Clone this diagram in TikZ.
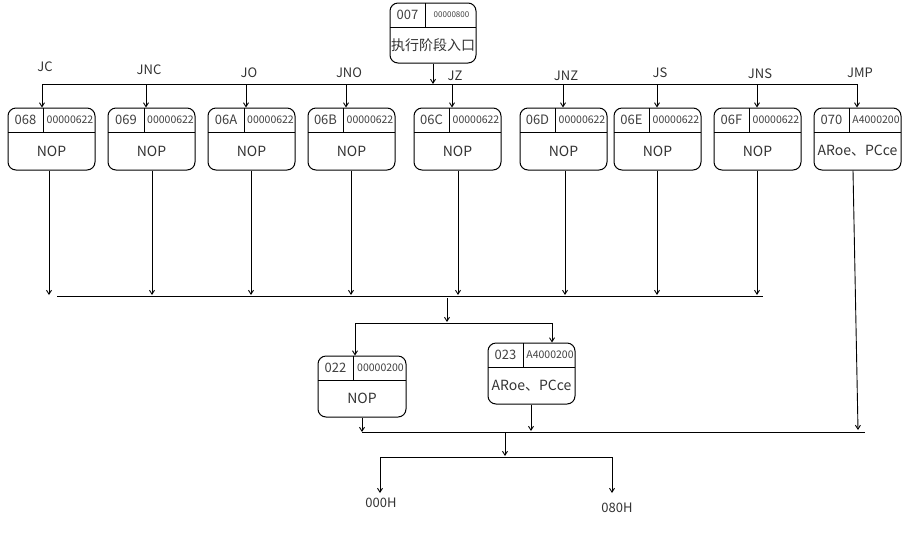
\documentclass[tikz,border=0pt]{standalone}
\usepackage{fontspec}
\setmainfont{Noto Sans CJK SC}
\usetikzlibrary{fit,arrows.meta}
\tikzset{
  arr/.style={-{Straight Barb[length=4pt,width=5pt]},line width=0.9pt},
  ln/.style={line width=0.9pt},
  bx/.style={draw,rounded corners=8pt,line width=1pt,inner sep=0pt},
  idt/.style={font=\fontsize{13}{13}\selectfont,text=black!75,inner sep=0pt},
  cdt/.style={font=\fontsize{10.5}{10.5}\selectfont,text=black!75,inner sep=0pt},
  bdt/.style={font=\fontsize{14}{14}\selectfont,text=black!80,inner sep=0pt},
  lab/.style={font=\fontsize{13}{13}\selectfont,text=black!80,inner sep=0pt}
}
% name, x1, y1, x2, y2, xdiv, id, code, body
\newcommand\mybox[9]{%
  \coordinate (#1-a) at (#2,#3);
  \coordinate (#1-b) at (#4,#5);
  \node[bx,fit=(#1-a)(#1-b)] (#1) {};
  \draw[line width=1pt] (#2,#3+24) -- (#4,#3+24);
  \draw[line width=1pt] (#6,#3) -- (#6,#3+24);
  \node[idt] at ({(#2+#6)/2},#3+12) {#7};
  \node[cdt] at ({(#6+#4)/2+1},#3+12) {#8};
  \node[bdt] at ({(#2+#4)/2},{(#3+24+#5)/2}) {#9};
}
\begin{document}
\begin{tikzpicture}[x=1pt,y=-1pt]
\useasboundingbox[fill=white] (0,0) rectangle (913,558);
\mybox{b007}{390}{3}{476}{63}{425}{007}{\fontsize{8}{8}\selectfont 00000800}{执行阶段入口}
\mybox{b068}{8}{108}{95}{170}{43}{068}{00000622}{NOP}
\mybox{b069}{108}{108}{195}{170}{144}{069}{00000622}{NOP}
\mybox{b06A}{208}{108}{295}{170}{244}{06A}{00000622}{NOP}
\mybox{b06B}{308}{108}{395}{170}{343}{06B}{00000622}{NOP}
\mybox{b06C}{414}{108}{501}{170}{449}{06C}{00000622}{NOP}
\mybox{b06D}{520}{108}{607}{170}{555}{06D}{00000622}{NOP}
\mybox{b06E}{614}{108}{701}{170}{649}{06E}{00000622}{NOP}
\mybox{b06F}{714}{108}{801}{170}{749}{06F}{00000622}{NOP}
\mybox{b070}{814}{108}{901}{170}{849}{070}{A4000200}{ARoe、PCce}
\mybox{b022}{318}{356}{406}{417}{353}{022}{00000200}{NOP}
\mybox{b023}{488}{343}{575}{404}{523}{023}{A4000200}{ARoe、PCce}
% top bus
\coordinate (busL) at (42,84);
\coordinate (busR) at (857,84);
\draw[ln] (busL) -- (busR);
\draw[arr] (b007.south -| 433,0) -- (433,84);
\foreach \x/\t/\n/\ly in {42/JC/b068/67,146/JNC/b069/70,246/JO/b06A/73,346/JNO/b06B/73,452/JZ/b06C/76,563/JNZ/b06D/76,657/JS/b06E/73,757/JNS/b06F/74,857/JMP/b070/73}{
  \draw[arr] (\x,84) -- (\n.north -| \x,0);
  \node[lab] at (\x+3,\ly) {\t};
}
% second bus
\draw[ln] (57,296) -- (763,296);
\foreach \x/\n in {49/b068,152/b069,251/b06A,351/b06B,458/b06C,565/b06D,657/b06E,757/b06F}{
  \draw[arr] (\n.south -| \x,0) -- (\x,295);
}
\draw[arr] (b070.south -| 853,0) -- (858,430);
\draw[arr] (447,298) -- (447,322);
\draw[ln] (355,323) -- (552,323);
\draw[arr] (355,323) -- (b022.north -| 355,0);
\draw[arr] (552,323) -- (b023.north -| 552,0);
% third bus
\draw[ln] (362,432) -- (865,432);
\draw[arr] (b022.south -| 362,0) -- (362,432);
\draw[arr] (b023.south -| 531,0) -- (531,431);
\draw[arr] (505,432) -- (505,456);
\draw[ln] (380,457) -- (612,457);
\draw[arr] (380,457) -- (380,493);
\draw[arr] (612,457) -- (612,493);
\node[lab] (h0) at (381,503) {000H};
\node[lab] (h8) at (617,508) {080H};
\end{tikzpicture}
\end{document}
